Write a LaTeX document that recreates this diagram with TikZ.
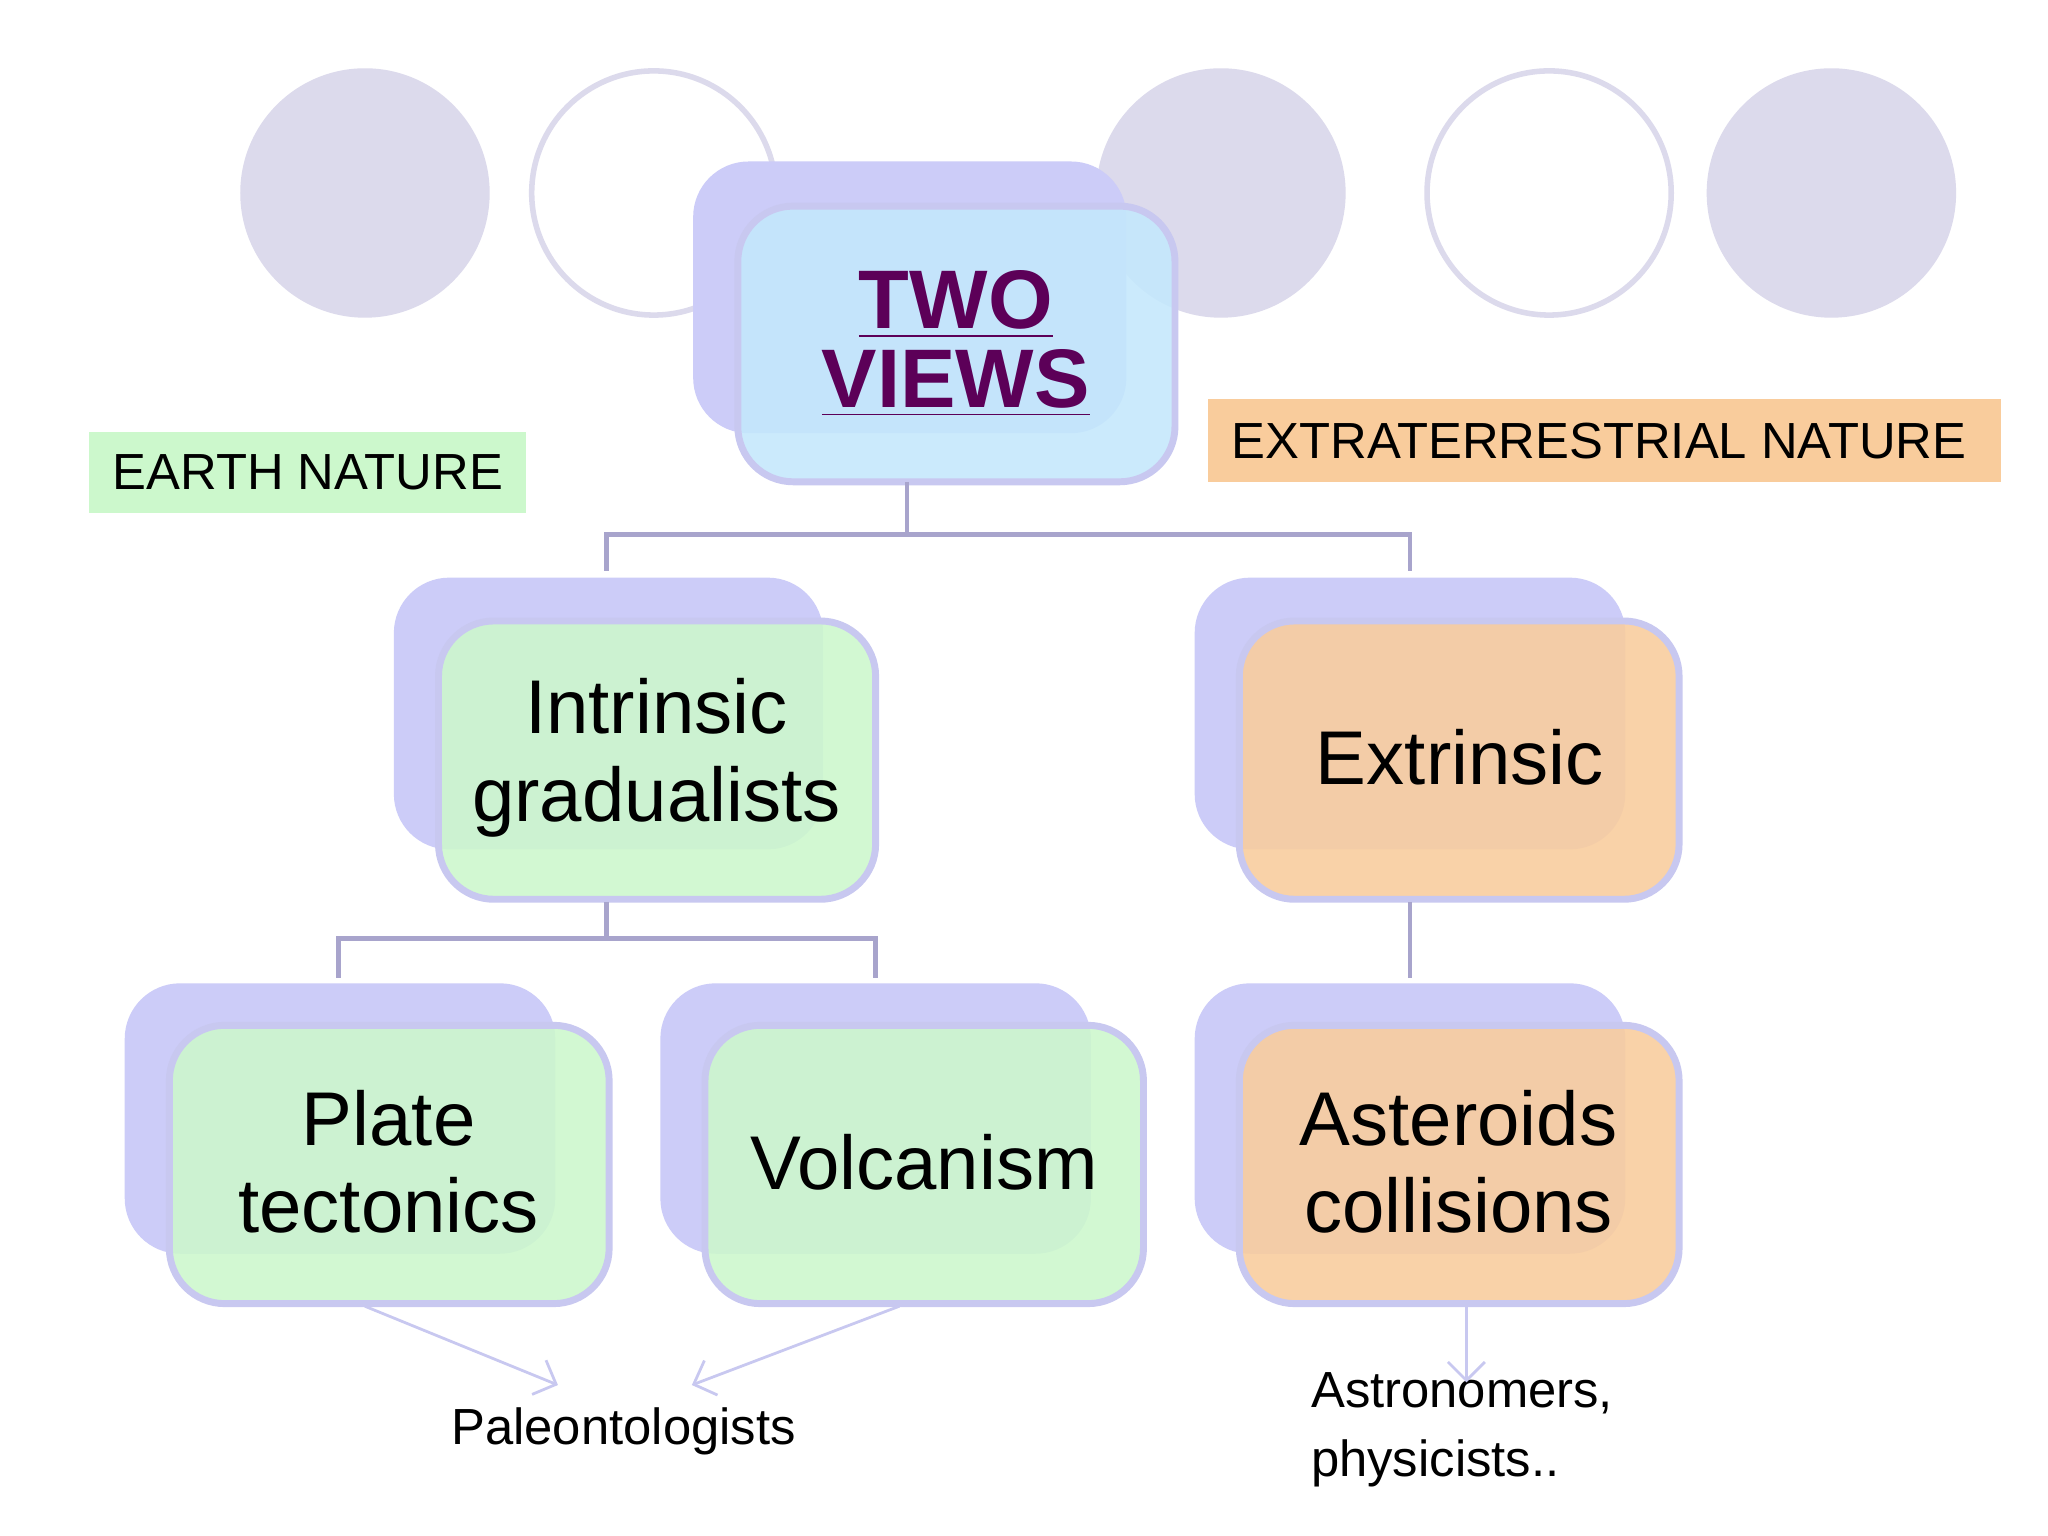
\documentclass[tikz,border=0pt]{standalone}
\usepackage{fontspec}
\setmainfont{Liberation Sans}
\usetikzlibrary{arrows.meta}
\definecolor{circ}{HTML}{DCDAEC}
\definecolor{back}{HTML}{CCCCF8}
\definecolor{edge}{HTML}{C8C8F0}
\definecolor{blu}{HTML}{C4E8FC}
\definecolor{grn}{HTML}{CCF8CC}
\definecolor{org}{HTML}{F9CC9C}
\definecolor{lin}{HTML}{A8A4CC}
\definecolor{purp}{HTML}{5C0058}
\tikzset{
 backbox/.style={fill=back,rounded corners=12pt},
 frontbox/.style={draw=edge,line width=1.5pt,rounded corners=12pt,fill opacity=0.88},
 conn/.style={draw=lin,line width=1pt},
 thin/.style={draw=edge,line width=0.6pt,-{Straight Barb[length=4pt,width=8pt]}},
 big/.style={font=\fontsize{16.5}{19}\selectfont,align=center},
 lab/.style={font=\fontsize{11}{12}\selectfont,inner sep=0pt}
}
\begin{document}
\begin{tikzpicture}[x=0.01cm,y=-0.01cm]
\useasboundingbox[fill=white] (0,0) rectangle (1560,1170);
\fill[circ] (278,147) circle (95);
\draw[circ,line width=1.2pt] (498,147) circle (93);
\fill[circ] (930,147) circle (95);
\draw[circ,line width=1.2pt] (1180,147) circle (93);
\fill[circ] (1395,147) circle (95);
% top
\fill[backbox] (528,123) rectangle (858,330);
\draw[frontbox,fill=blu] (562,157) rectangle (895,367);
\node[font=\bfseries\fontsize{18}{17}\selectfont,text=purp,align=center] (top) at (728,262) {\underline{TWO}\\\underline{VIEWS}};
\coordinate (topb) at (691,367);
% labels
\fill[grn] (68,329) rectangle (401,391);
\node[lab] (earthl) at (234.5,360) {EARTH NATURE};
\fill[org] (920,304) rectangle (1524,367);
\node[lab] (extl) at (1218,336) {EXTRATERRESTRIAL NATURE};
% level 2
\fill[backbox] (300,440) rectangle (627,647);
\draw[frontbox,fill=grn] (334,473) rectangle (667,685);
\node[big] (intr) at (500,577) {Intrinsic\\gradualists};
\fill[backbox] (910,440) rectangle (1238,647);
\draw[frontbox,fill=org] (944,473) rectangle (1279,685);
\node[big] (extr) at (1112,577) {Extrinsic};
\draw[conn] (topb) -- (691,407) -- (462,407) -- (462,435);
\draw[conn] (691,407) -- (1074,407) -- (1074,435);
% level 3
\fill[backbox] (95,749) rectangle (423,955);
\draw[frontbox,fill=grn] (129,781) rectangle (464,993);
\node[big] (plate) at (296,885) {Plate\\tectonics};
\fill[backbox] (503,749) rectangle (831,955);
\draw[frontbox,fill=grn] (537,781) rectangle (871,993);
\node[big] (volc) at (704,885) {Volcanism};
\fill[backbox] (910,749) rectangle (1238,955);
\draw[frontbox,fill=org] (944,781) rectangle (1279,993);
\node[big] (ast) at (1111,885) {Asteroids\\collisions};
\draw[conn] (462,687) -- (462,715) -- (258,715) -- (258,745);
\draw[conn] (462,715) -- (667,715) -- (667,745);
\draw[conn] (1074,687) -- (1074,745);
% bottom
\node[lab] (pal) at (475,1090) {Paleontologists};
\node[lab,align=left,anchor=west] (astr) at (998,1089) {Astronomers,\\[3pt]physicists..};
\coordinate (a1) at (425,1055);
\coordinate (a2) at (527,1055);
\coordinate (a3) at (1117,1053);
\draw[thin] (278,995) -- (a1);
\draw[thin] (685,995) -- (a2);
\draw[thin] (1117,995) -- (a3);
\end{tikzpicture}
\end{document}
